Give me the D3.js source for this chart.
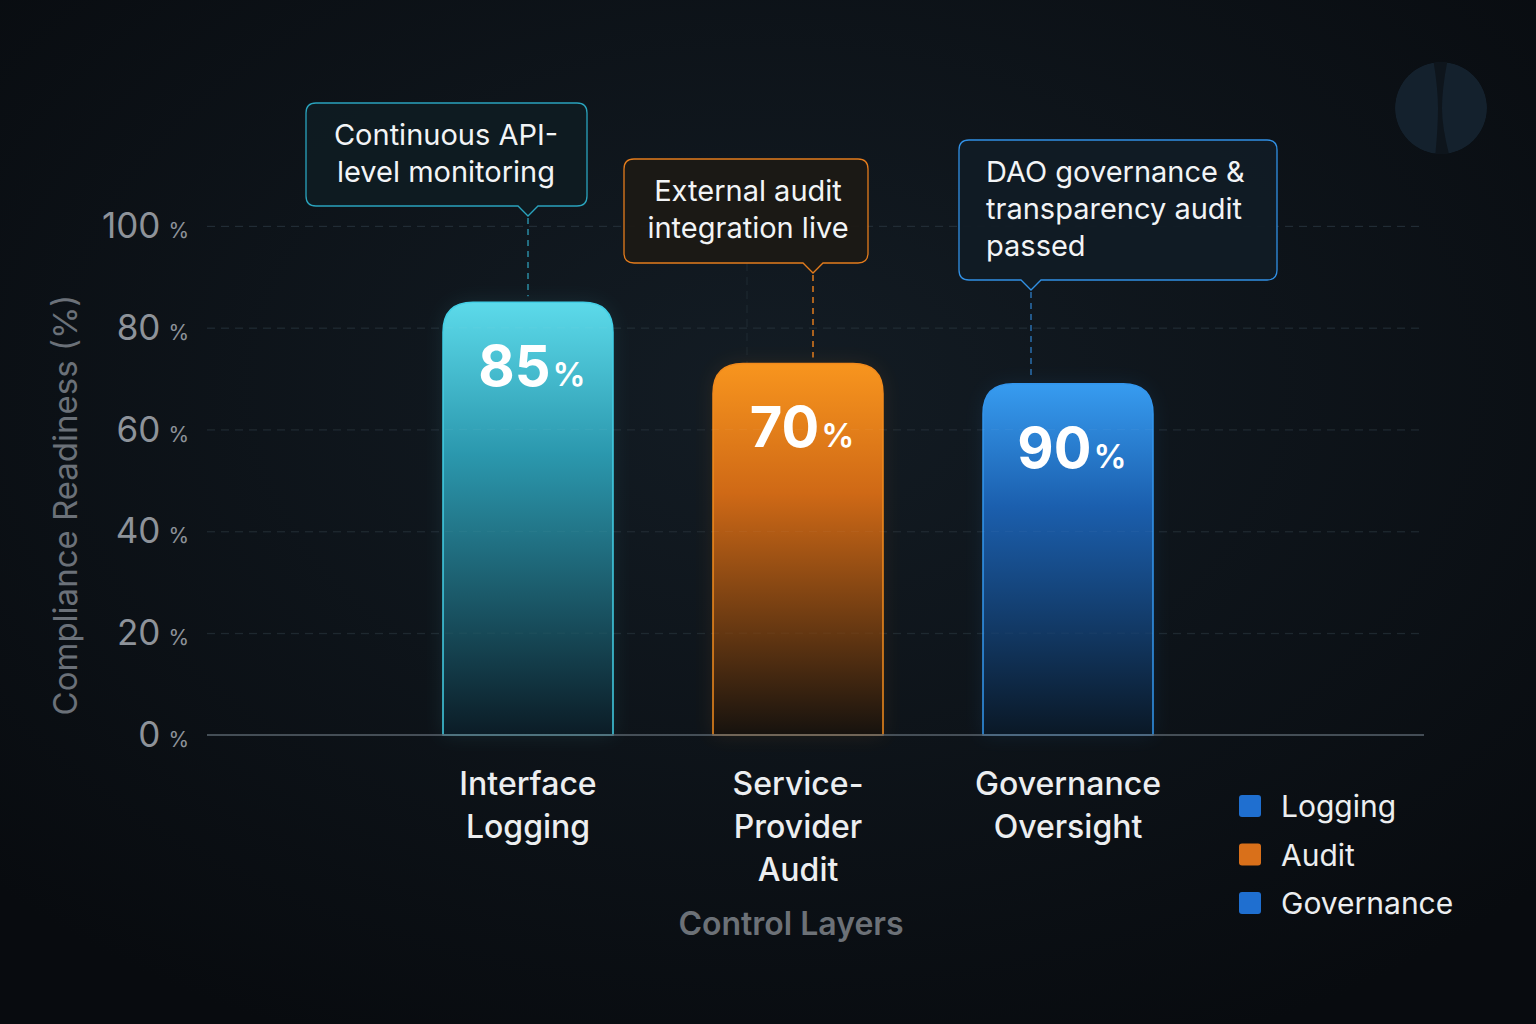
<!DOCTYPE html>
<html>
<head>
<meta charset="utf-8">
<script src="https://cdn.jsdelivr.net/npm/d3@7"></script>
<style>
  html, body { margin: 0; padding: 0; background: #0a0f14; }
  svg { display: block; font-family: Inter, "Noto Sans", sans-serif; }
</style>
</head>
<body>
<div id="chart-area"></div>
<script>
const WIDTH = 1536;
const HEIGHT = 1024;

// data
const categories = ['Interface Logging', 'Service-Provider Audit', 'Governance Oversight'];
const categoryLines = [['Interface', 'Logging'], ['Service-', 'Provider', 'Audit'], ['Governance', 'Oversight']];
const barValues = [85, 73, 69];          // drawn bar heights
const valueLabels = ['85', '70', '90'];  // printed labels
const notes = [
  ['Continuous API-', 'level monitoring'],
  ['External audit', 'integration live'],
  ['DAO governance &', 'transparency audit', 'passed'],
];
const yTicks = [0, 20, 40, 60, 80, 100];
const legendLabels = ['Logging', 'Audit', 'Governance'];

// styles
const THEMES = [
  {top: '#5cdaea', mid: '#2b98ae', bot: '#0b1c26', stroke: '#43cfe6', box: '#0f1b22', boxStroke: '#2aa3bd', dash: '#2a8aa3'},
  {top: '#f8951e', mid: '#cf6916', bot: '#16120e', stroke: '#f28a1c', box: '#1c1915', boxStroke: '#e47c1c', dash: '#e07b1c'},
  {top: '#379cf0', mid: '#1b5fae', bot: '#0a1826', stroke: '#3396ee', box: '#111b25', boxStroke: '#3190e4', dash: '#2a6fae'},
];
const LEGEND_COLORS = ['#1f6fd0', '#d9701a', '#1f6fd0'];
// callout placement relative to bar centre
const NOTE_LAYOUT = [
  {dx: -222, y: 103, w: 281, h: 103, px: 0, anchor: 'middle', tx: 140},
  {dx: -174, y: 159, w: 244, h: 104, px: 15, anchor: 'middle', tx: 124},
  {dx: -109, y: 140, w: 318, h: 140, px: -37, anchor: 'start', tx: 27},
];

main();

function main() {
  const svg = d3.select('#chart-area').append('svg')
    .attr('width', WIDTH)
    .attr('height', HEIGHT);
  const defs = svg.append('defs');
  drawBackground(svg, defs);
  showGraph(svg, defs);
}

function drawBackground(svg, defs) {
  const bg = defs.append('radialGradient')
    .attr('id', 'bg')
    .attr('cx', '50%').attr('cy', '38%').attr('r', '70%');
  bg.append('stop').attr('offset', '0%').attr('stop-color', '#131c24');
  bg.append('stop').attr('offset', '100%').attr('stop-color', '#080b0f');
  svg.append('rect')
    .attr('width', WIDTH)
    .attr('height', HEIGHT)
    .attr('fill', 'url(#bg)');

  // faint logo top right
  defs.append('clipPath').attr('id', 'logoClip')
    .append('circle').attr('r', 46);
  const logo = svg.append('g')
    .attr('transform', 'translate(1441, 108)')
    .attr('clip-path', 'url(#logoClip)');
  logo.append('circle').attr('r', 46).attr('fill', '#14212d');
  logo.append('path')
    .attr('d', 'M-8,-50 L7,-50 Q1,-20 1,0 Q1,20 9,50 L-6,50 Q-3,20 -3,0 Q-3,-20 -8,-50 Z')
    .attr('fill', '#0e151c');
}

function showGraph(svg, defs) {
  const scaleY = d3.scaleLinear()
    .domain([0, 100])
    .range([735, 226]);
  const scaleX = d3.scaleBand()
    .domain(categories)
    .range([443, 1153])
    .paddingInner(100 / 270)
    .paddingOuter(0);
  const bw = scaleX.bandwidth();

  // grid
  const gridCall = d3.axisLeft(scaleY)
    .tickValues(yTicks.filter(d => d > 0))
    .tickSize(-(1424 - 207))
    .tickFormat('');
  const grid = svg.append('g')
    .attr('transform', 'translate(207, 0)')
    .call(gridCall);
  grid.select('.domain').remove();
  grid.selectAll('line')
    .attr('stroke', '#1d2831')
    .attr('stroke-dasharray', '8,6')
    .attr('stroke-width', 1);

  // faint grey guide under audit callout
  svg.append('line')
    .attr('x1', scaleX(categories[1]) + bw / 2 - 51)
    .attr('x2', scaleX(categories[1]) + bw / 2 - 51)
    .attr('y1', 263)
    .attr('y2', 735)
    .attr('stroke', '#1f2a33')
    .attr('stroke-dasharray', '8,6');

  // gradients
  THEMES.forEach((t, i) => {
    const g = defs.append('linearGradient')
      .attr('id', `bar${ i }`)
      .attr('x1', 0).attr('y1', 0).attr('x2', 0).attr('y2', 1);
    g.append('stop').attr('offset', '0%').attr('stop-color', t.top);
    g.append('stop').attr('offset', '35%').attr('stop-color', t.mid);
    g.append('stop').attr('offset', '100%').attr('stop-color', t.bot);
  });
  const glow = defs.append('filter').attr('id', 'glow')
    .attr('x', '-30%').attr('y', '-30%').attr('width', '160%').attr('height', '160%');
  glow.append('feGaussianBlur').attr('stdDeviation', 10);

  const r = 30;
  const barPath = (d, i) => {
    const x = scaleX(categories[i]);
    const y = scaleY(d);
    const y0 = scaleY(0);
    return `M${ x },${ y0 } L${ x },${ y + r } Q${ x },${ y } ${ x + r },${ y } ` +
      `L${ x + bw - r },${ y } Q${ x + bw },${ y } ${ x + bw },${ y + r } L${ x + bw },${ y0 } Z`;
  };

  const bars = svg.append('g');
  bars.selectAll('path.glow')
    .data(barValues)
    .enter()
    .append('path')
    .attr('class', 'glow')
    .attr('d', barPath)
    .attr('fill', (d, i) => THEMES[i].top)
    .attr('opacity', 0.1)
    .attr('filter', 'url(#glow)');
  bars.selectAll('path.bar')
    .data(barValues)
    .enter()
    .append('path')
    .attr('class', 'bar')
    .attr('d', barPath)
    .attr('fill', (d, i) => `url(#bar${ i })`)
    .attr('stroke', (d, i) => THEMES[i].stroke)
    .attr('stroke-width', 1.5);

  // grid lines faintly visible over the bars
  svg.append('g')
    .selectAll('line')
    .data(yTicks.filter(d => d > 0))
    .enter()
    .append('line')
    .attr('x1', 207).attr('x2', 1424)
    .attr('y1', d => scaleY(d)).attr('y2', d => scaleY(d))
    .attr('stroke', '#ffffff')
    .attr('stroke-opacity', 0.04)
    .attr('stroke-dasharray', '8,6');

  // value labels
  const vl = svg.append('g')
    .selectAll('text')
    .data(barValues)
    .enter()
    .append('text')
    .attr('x', (d, i) => scaleX(categories[i]) + bw / 2 + 4)
    .attr('y', d => scaleY(d) + 84)
    .attr('text-anchor', 'middle')
    .attr('fill', '#ffffff')
    .attr('font-weight', 700);
  vl.append('tspan')
    .attr('font-size', 56)
    .text((d, i) => valueLabels[i]);
  vl.append('tspan')
    .attr('font-size', 33)
    .attr('font-weight', 600)
    .attr('dx', 2)
    .text('%');

  // baseline
  svg.append('line')
    .attr('x1', 207).attr('x2', 1424)
    .attr('y1', scaleY(0)).attr('y2', scaleY(0))
    .attr('stroke', '#59636d')
    .attr('stroke-width', 1.5);

  // y tick labels
  const yl = svg.append('g')
    .selectAll('text')
    .data(yTicks)
    .enter()
    .append('text')
    .attr('x', 189)
    .attr('y', d => scaleY(d) + 12)
    .attr('text-anchor', 'end')
    .attr('fill', '#8e939a');
  yl.append('tspan').attr('font-size', 35).text(d => d);
  yl.append('tspan').attr('font-size', 21).attr('dx', 8).text('%');

  svg.append('text')
    .attr('transform', 'translate(77, 505) rotate(-90)')
    .attr('text-anchor', 'middle')
    .attr('font-size', 33)
    .attr('fill', '#6b7179')
    .text('Compliance Readiness (%)');

  // x labels
  svg.append('g')
    .selectAll('text')
    .data(categories)
    .enter()
    .append('text')
    .attr('x', d => scaleX(d) + bw / 2)
    .attr('y', 795)
    .attr('text-anchor', 'middle')
    .attr('font-size', 32)
    .attr('font-weight', 500)
    .attr('fill', '#eceef0')
    .selectAll('tspan')
    .data((d, i) => categoryLines[i])
    .enter()
    .append('tspan')
    .attr('x', function () { return this.parentNode.getAttribute('x'); })
    .attr('dy', (d, j) => j === 0 ? 0 : 43)
    .text(d => d);

  svg.append('text')
    .attr('x', 791)
    .attr('y', 935)
    .attr('text-anchor', 'middle')
    .attr('font-size', 32)
    .attr('font-weight', 600)
    .attr('fill', '#6c7177')
    .text('Control Layers');

  // callouts
  notes.forEach((lines, i) => {
    const L = NOTE_LAYOUT[i];
    const t = THEMES[i];
    const cx = scaleX(categories[i]) + bw / 2;
    const x = cx + L.dx;
    const px = cx + L.px;
    const yb = L.y + L.h;
    const rr = 10;
    const d = `M${ x + rr },${ L.y } L${ x + L.w - rr },${ L.y } Q${ x + L.w },${ L.y } ${ x + L.w },${ L.y + rr } ` +
      `L${ x + L.w },${ yb - rr } Q${ x + L.w },${ yb } ${ x + L.w - rr },${ yb } ` +
      `L${ px + 10 },${ yb } L${ px },${ yb + 10 } L${ px - 10 },${ yb } ` +
      `L${ x + rr },${ yb } Q${ x },${ yb } ${ x },${ yb - rr } L${ x },${ L.y + rr } Q${ x },${ L.y } ${ x + rr },${ L.y } Z`;
    svg.append('line')
      .attr('x1', px).attr('x2', px)
      .attr('y1', yb + 12)
      .attr('y2', scaleY(barValues[i]) - 6)
      .attr('stroke', t.dash)
      .attr('stroke-width', 1.5)
      .attr('stroke-dasharray', '6,5');
    svg.append('path')
      .attr('d', d)
      .attr('fill', t.box)
      .attr('fill-opacity', 0.95)
      .attr('stroke', t.boxStroke)
      .attr('stroke-width', 1.3);
    svg.append('text')
      .attr('x', x + L.tx)
      .attr('y', L.y + 42)
      .attr('text-anchor', L.anchor)
      .attr('font-size', 29)
      .attr('fill', '#f2f4f6')
      .selectAll('tspan')
      .data(lines)
      .enter()
      .append('tspan')
      .attr('x', x + L.tx)
      .attr('dy', (d, j) => j === 0 ? 0 : 37)
      .text(d => d);
  });

  // legend
  const lg = svg.append('g')
    .selectAll('g')
    .data(legendLabels)
    .enter()
    .append('g')
    .attr('transform', (d, i) => `translate(1239, ${ 795 + i * 48.5 })`);
  lg.append('rect')
    .attr('width', 22).attr('height', 22).attr('rx', 3)
    .attr('fill', (d, i) => LEGEND_COLORS[i]);
  lg.append('text')
    .attr('x', 42)
    .attr('y', 22)
    .attr('font-size', 30)
    .attr('fill', '#eceef0')
    .text(d => d);
}
</script>
</body>
</html>
